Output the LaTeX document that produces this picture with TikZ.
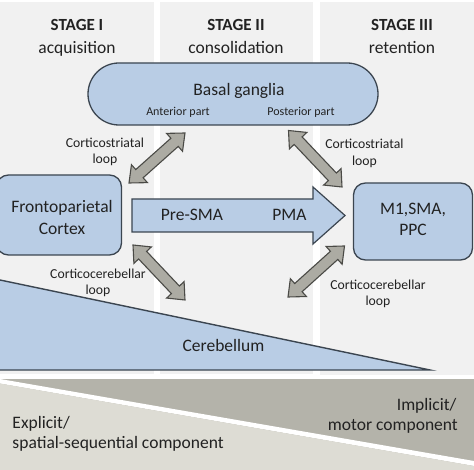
\documentclass[tikz,border=0pt]{standalone}
\usepackage{fontspec}
\setmainfont{Carlito}
\usetikzlibrary{calc}
\definecolor{panelgrey}{HTML}{F1F1F1}
\definecolor{boxblue}{HTML}{B9CDE5}
\definecolor{edgedark}{HTML}{3B4550}
\definecolor{arrowgrey}{HTML}{ACABA3}
\definecolor{arrowedge}{HTML}{4A4A46}
\definecolor{banddark}{HTML}{B4B3AA}
\definecolor{bandlight}{HTML}{DDDCD4}
\definecolor{textdark}{HTML}{222222}
\def\arrHL{14pt}
\def\arrHW{12pt}
\def\arrSW{5.5pt}
\newcommand\dblarrow[2]{%
  \draw[greyarrow] (#1)
    -- ($(#1)!\arrHL!(#2)!\arrHW!90:(#2)$)
    -- ($(#1)!\arrHL!(#2)!\arrSW!90:(#2)$)
    -- ($(#2)!\arrHL!(#1)!\arrSW!-90:(#1)$)
    -- ($(#2)!\arrHL!(#1)!\arrHW!-90:(#1)$)
    -- (#2)
    -- ($(#2)!\arrHL!(#1)!\arrHW!90:(#1)$)
    -- ($(#2)!\arrHL!(#1)!\arrSW!90:(#1)$)
    -- ($(#1)!\arrHL!(#2)!\arrSW!-90:(#2)$)
    -- ($(#1)!\arrHL!(#2)!\arrHW!-90:(#2)$)
    -- cycle;}
\tikzset{
  panel/.style={fill=panelgrey, draw=none},
  bluebox/.style={fill=boxblue, draw=edgedark, line width=1.3pt},
  greyarrow/.style={fill=arrowgrey, draw=arrowedge, line width=1.1pt, line join=miter},
  txt/.style={inner sep=0pt, anchor=base, text=textdark},
  bigtxt/.style={txt, font=\fontsize{17.5}{21}\selectfont},
  stagetxt/.style={txt, font=\bfseries\fontsize{17}{20}\selectfont},
  looptxt/.style={txt, font=\fontsize{13.7}{16.5}\selectfont},
  parttxt/.style={txt, font=\fontsize{12}{14}\selectfont},
}
\begin{document}
\begin{tikzpicture}[x=1pt,y=-1pt]
\useasboundingbox (0,0) rectangle (474,470);
\fill[white] (0,0) rectangle (474,470);
% stage panels
\fill[panel] (0,2) rectangle (153.5,374);
\fill[panel] (159.5,2) rectangle (313,374);
\fill[panel] (319.5,2) rectangle (474,375);
% stage headings
\node[stagetxt] (s1) at (77,30.5) {STAGE I};
\node[bigtxt] (s1b) at (77,53.3) {acquisition};
\node[stagetxt] (s2) at (236,30.5) {STAGE II};
\node[bigtxt] (s2b) at (236,53.3) {consolidation};
\node[stagetxt] (s3) at (402,30.5) {STAGE III};
\node[bigtxt] (s3b) at (402,53.3) {retention};
% basal ganglia
\node[bluebox, rounded corners=31pt, minimum width=290pt, minimum height=62pt, inner sep=0pt] (bg) at (233,94) {};
\node[bigtxt] (bgt) at (239,95.7) {Basal ganglia};
\node[parttxt] (ant) at (178,116) {Anterior part};
\node[parttxt] (post) at (301,116) {Posterior part};
% cortex boxes
\node[bluebox, rounded corners=12pt, minimum width=125pt, minimum height=80pt, inner sep=0pt] (fp) at (59,215) {};
\node[bigtxt] (fpt1) at (62,212.7) {Frontoparietal};
\node[bigtxt] (fpt2) at (62,235) {Cortex};
\node[bluebox, rounded corners=12pt, minimum width=119pt, minimum height=77pt, inner sep=0pt] (m1) at (413,221.5) {};
\node[bigtxt] (m1t1) at (413,214.3) {M1,SMA,};
\node[bigtxt] (m1t2) at (413,236) {PPC};
% big arrow
\draw[bluebox, line width=1.2pt, line join=miter] (132,199) -- (313,199) -- (313,187) -- (345,215.5) -- (313,244) -- (313,232) -- (132,232) -- cycle;
\node[bigtxt] (presma) at (192,220.7) {Pre-SMA};
\node[bigtxt] (pma) at (289.5,220.7) {PMA};
% cerebellum
\fill[boxblue] (0,280) -- (430,370) -- (0,370) -- cycle;
\draw[edgedark, line width=1.4pt] (0,280) -- (430,370) -- (0,370);
\node[bigtxt] (cb) at (223.5,352) {Cerebellum};
% loops
\coordinate (csLa) at (129,183);
\coordinate (csLb) at (185,133);
\coordinate (csRa) at (288.5,130.5);
\coordinate (csRb) at (342,187);
\coordinate (ccLa) at (133,245);
\coordinate (ccLb) at (185,300);
\coordinate (ccRa) at (344.5,246);
\coordinate (ccRb) at (288,297);
\dblarrow{csLa}{csLb}
\dblarrow{csRa}{csRb}
\dblarrow{ccLa}{ccLb}
\dblarrow{ccRa}{ccRb}
\node[looptxt] (csl1) at (105,147.5) {Corticostriatal};
\node[looptxt] (csl2) at (105,164) {loop};
\node[looptxt] (csr1) at (364.5,149) {Corticostriatal};
\node[looptxt] (csr2) at (364.5,165.5) {loop};
\node[looptxt] (ccl1) at (98,278.3) {Corticocerebellar};
\node[looptxt] (ccl2) at (98,294.8) {loop};
\node[looptxt] (ccr1) at (378,289.3) {Corticocerebellar};
\node[looptxt] (ccr2) at (378,305.8) {loop};
% bottom band
\fill[banddark] (0,379) rectangle (474,470);
\fill[white] (0,379) -- (474,461) -- (474,466) -- (0,383.5) -- cycle;
\fill[bandlight] (0,383.5) -- (474,466) -- (474,470) -- (0,470) -- cycle;
\node[bigtxt, anchor=base west] (ex1) at (12.3,428.5) {Explicit/};
\node[bigtxt, anchor=base west] (ex2) at (12.3,448.5) {spatial-sequential component};
\node[bigtxt, anchor=base east] (im1) at (456.7,410) {Implicit/};
\node[bigtxt, anchor=base east] (im2) at (458,430.5) {motor component};
\end{tikzpicture}
\end{document}
